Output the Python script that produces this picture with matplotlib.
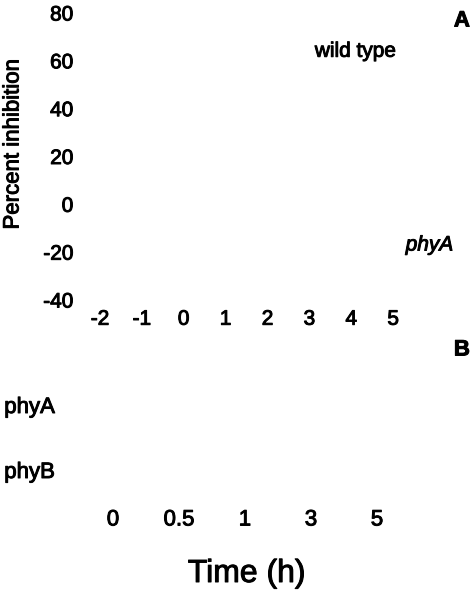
import matplotlib
matplotlib.use('Agg')
from matplotlib import pyplot as plt
from matplotlib import patheffects as pe

# panel A axis values
a_xticks = [-2, -1, 0, 1, 2, 3, 4, 5]
a_yticks = [-40, -20, 0, 20, 40, 60, 80]
a_series = ['wild type', 'phyA']

# panel B (blot rows and time points)
b_rows = ['phyB', 'phyA']
b_times = ['0', '0.5', '1', '3', '5']

W, H = 474, 594
plt.rcParams['font.family'] = ['Liberation Sans', 'DejaVu Sans']
fig = plt.figure(figsize=(W / 100, H / 100), dpi=100)

# scanned figure: strokes look a bit heavier than plain Arial
heavy = [pe.withStroke(linewidth=0.7, foreground='black')]


def px_axes(left, top, right, bottom):
    return fig.add_axes([left / W, (H - bottom) / H, (right - left) / W, (bottom - top) / H])


def strip(ax):
    for s in ax.spines.values():
        s.set_visible(False)
    ax.tick_params(length=0)
    ax.patch.set_alpha(0)


# --- panel A
ax1 = px_axes(79, 13, 456, 300)
strip(ax1)
ax1.set_xlim(-2.5, 6.5)
ax1.set_ylim(-40, 80)
ax1.set_xticks(a_xticks)
ax1.set_xticklabels([str(v) for v in a_xticks], fontsize=15)
ax1.set_yticks(a_yticks)
ax1.set_yticklabels([str(v) for v in a_yticks], fontsize=15)
ax1.tick_params(axis='y', pad=4)
ax1.tick_params(axis='x', pad=7)
ax1.text(4.1, 64, a_series[0], fontsize=15, ha='center', va='center')
ax1.text(5.3, -17, a_series[1], fontsize=15, ha='left', va='center', style='italic')
fig.text(13 / W, 1 - 144 / H, 'Percent inhibition', rotation=90, fontsize=16,
         ha='center', va='center')
fig.text(470 / W, 1 - 21 / H, 'A', fontsize=16, fontweight='bold', ha='right', va='center')

# --- panel B
ax2 = px_axes(80, 372.5, 410, 502.5)
strip(ax2)
ax2.set_xlim(-0.5, len(b_times) - 0.5)
ax2.set_ylim(-0.5, 1.5)
ax2.set_xticks(range(len(b_times)))
ax2.set_xticklabels(b_times, fontsize=16)
ax2.set_yticks(range(len(b_rows)))
ax2.set_yticklabels(b_rows, fontsize=16)
ax2.tick_params(axis='y', pad=18)
ax2.tick_params(axis='x', pad=5)
fig.text(247 / W, 1 - 574 / H, 'Time (h)', fontsize=23, ha='center', va='center')
fig.text(470 / W, 1 - 350 / H, 'B', fontsize=16, fontweight='bold', ha='right', va='center')

for t in fig.findobj(matplotlib.text.Text):
    t.set_path_effects(heavy)

plt.savefig('out.png', dpi=100)
